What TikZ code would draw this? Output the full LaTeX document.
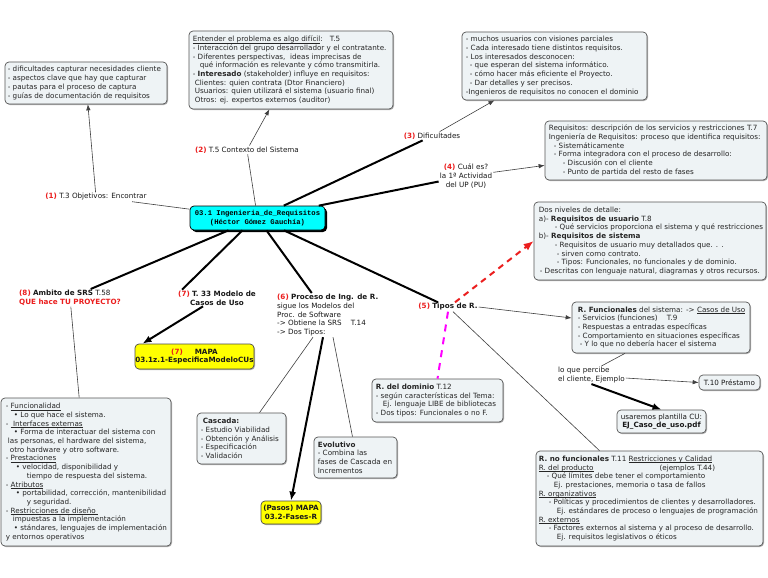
\documentclass[tikz,border=0pt]{standalone}
\usepackage{fontspec}
\setmainfont{DejaVu Sans}
\newfontfamily\cmono{Liberation Mono}
\usetikzlibrary{arrows.meta,calc,shadows}
\definecolor{nred}{RGB}{235,30,30}
\definecolor{boxfill}{RGB}{238,243,245}
\definecolor{boxline}{RGB}{85,85,85}
\definecolor{cyanfill}{RGB}{0,255,255}
\definecolor{yel}{RGB}{255,255,0}
\definecolor{mag}{RGB}{255,0,255}
\newcommand\numr[1]{\textcolor{nred}{\textbf{#1}}}
\newcommand\uln[1]{\setbox0\hbox{#1}\rlap{\rule[-1.3pt]{\wd0}{0.45pt}}\box0}
\tikzset{
  box/.style={draw=boxline, fill=boxfill, rounded corners=4pt, inner sep=0pt, line width=0.7pt,
    drop shadow={shadow xshift=1pt, shadow yshift=-1pt, fill=black!45, opacity=0.7}},
  ybox/.style={box, fill=yel, draw=black!70},
  txt/.style={inner sep=0pt, align=left, anchor=west, text=black!85},
  lbl/.style={inner sep=1pt, align=left, text=black!90},
  thin/.style={draw=black!75, line width=0.6pt},
  thick/.style={draw=black, line width=2pt},
  tarr/.style={-{Latex[length=6pt,width=4.5pt]}},
  karr/.style={-{Latex[length=9pt,width=7pt]}},
}
\begin{document}
\begin{tikzpicture}[x=1pt,y=-1pt,font=\fontsize{7.2pt}{8.7pt}\selectfont]
\useasboundingbox[fill=white] (0,0) rectangle (768,578);

% ---------- boxes ----------
\node[box, minimum width=162pt, minimum height=42pt] (a) at (86,83) {};
\node[txt] (aT) at ($(a.west)+(3,0)$) {- dificultades capturar necesidades cliente\\- aspectos clave que hay que capturar\\- pautas para el proceso de captura\\- guías de documentación de requisitos};

\node[box, minimum width=204pt, minimum height=78pt] (b) at (291,70) {};
\node[txt] (bT) at ($(b.west)+(4,0)$) {\uln{Entender el problema es algo difícil}:\ \ \ T.5\\- Interacción del grupo desarrollador y el contratante.\\- Diferentes perspectivas,\ \ ideas imprecisas de\\\hspace*{7pt}qué información es relevante y cómo transmitirla.\\- \textbf{Interesado} (stakeholder) influye en requisitos:\\\hspace*{2pt}Clientes: quien contrata (Dtor Financiero)\\\hspace*{2pt}Usuarios: quien utilizará el sistema (usuario final)\\\hspace*{2pt}Otros: ej. expertos externos (auditor)};

\node[box, minimum width=185pt, minimum height=68pt] (cc) at (554.5,66) {};
\node[txt] (ccT) at ($(cc.west)+(4,0)$) {- muchos usuarios con visiones parciales\\- Cada interesado tiene distintos requisitos.\\- Los interesados desconocen:\\\hspace*{4pt}- que esperan del sistema informático.\\\hspace*{4pt}- cómo hacer más eficiente el Proyecto.\\\hspace*{4pt}- Dar detalles y ser precisos.\\-Ingenieros de requisitos no conocen el dominio};

\node[box, minimum width=222pt, minimum height=59pt] (d) at (656,150.5) {};
\node[txt] (dT) at ($(d.west)+(4,0)$) {Requisitos: descripción de los servicios y restricciones T.7\\Ingeniería de Requisitos: proceso que identifica requisitos:\\\hspace*{5pt}- Sistemáticamente\\\hspace*{5pt}- Forma integradora con el proceso de desarrollo:\\\hspace*{14pt}- Discusión con el cliente\\\hspace*{14pt}- Punto de partida del resto de fases};

\node[box, minimum width=232pt, minimum height=78pt] (e) at (650,241) {};
\node[txt] (eT) at ($(e.west)+(5,0)$) {Dos niveles de detalle:\\a)- \textbf{Requisitos de usuario} T.8\\\hspace*{16pt}- Qué servicios proporciona el sistema y qué restricciones\\b)- \textbf{Requisitos de sistema}\\\hspace*{16pt}- Requisitos de usuario muy detallados que. . .\\\hspace*{18pt}- sirven como contrato.\\\hspace*{18pt}- Tipos: Funcionales, no funcionales y de dominio.\\\hspace*{1pt}- Descritas con lenguaje natural, diagramas y otros recursos.};

\node[box, minimum width=178pt, minimum height=51pt] (f) at (661,327.5) {};
\node[txt] (fT) at ($(f.west)+(6,0)$) {\textbf{R. Funcionales} del sistema: -> \uln{Casos de Uso}\\- Servicios (funciones)\ \ \ \ T.9\\- Respuestas a entradas específicas\\- Comportamiento en situaciones específicas\\\hspace*{2pt}- Y lo que no debería hacer el sistema};

\node[box, minimum width=61pt, minimum height=15pt] (t10) at (729.5,382.5) {};
\node[lbl, inner sep=0pt] (t10T) at (t10.center) {T.10 Préstamo};

\node[box, minimum width=89pt, minimum height=23pt] (us) at (661.5,421.5) {};
\node[lbl, inner sep=0pt, align=center] (usT) at (us.center) {usaremos plantilla CU:\\\textbf{EJ\_Caso\_de\_uso.pdf}};

\node[box, minimum width=227pt, minimum height=95pt] (nf) at (649.5,498.5) {};
\node[txt] (nfT) at ($(nf.west)+(3,0)$) {\textbf{R. no funcionales} T.11 \uln{Restricciones y Calidad}\\\uln{R. del producto}\hspace*{66pt}(ejemplos T.44)\\\hspace*{8pt}- Qué límites debe tener el comportamiento\\\hspace*{15pt}Ej. prestaciones, memoria o tasa de fallos\\\uln{R. organizativos}\\\hspace*{10pt}- Políticas y procedimientos de clientes y desarrolladores.\\\hspace*{18pt}Ej. estándares de proceso o lenguajes de programación\\\uln{R. externos}\\\hspace*{10pt}- Factores externos al sistema y al proceso de desarrollo.\\\hspace*{18pt}Ej. requisitos legislativos o éticos};

\node[box, minimum width=131pt, minimum height=43pt] (dm) at (437.5,400.5) {};
\node[txt] (dmT) at ($(dm.west)+(4,0)$) {\textbf{R. del dominio} T.12\\- según características del Tema:\\\hspace*{7pt}Ej. lenguaje LIBE de bibliotecas\\- Dos tipos: Funcionales o no F.};

\node[box, minimum width=83pt, minimum height=41pt] (ev) at (355.5,457.5) {};
\node[txt] (evT) at ($(ev.west)+(4,0)$) {\textbf{Evolutivo}\\- Combina las\\fases de Cascada en\\Incrementos};

\node[ybox, minimum width=60pt, minimum height=23pt] (ps) at (291,512.5) {};
\node[lbl, inner sep=0pt, align=center] (psT) at (ps.center) {\textbf{(Pasos) MAPA}\\\textbf{03.2-Fases-R}};

\node[box, minimum width=89pt, minimum height=51pt] (cs) at (241.5,438.5) {};
\node[txt] (csT) at ($(cs.west)+(4,0)$) {\hspace*{2pt}\textbf{Cascada:}\\- Estudio Viabilidad\\- Obtención y Análisis\\- Especificación\\- Validación};

\node[box, minimum width=170pt, minimum height=148pt] (ab) at (86,472) {};
\node[txt] (abT) at ($(ab.west)+(5,0)$) {- \uln{Funcionalidad}\\\hspace*{8pt}• Lo que hace el sistema.\\- \uln{ Interfaces externas}\\\hspace*{8pt}• Forma de interactuar del sistema con\\\hspace*{2pt}las personas, el hardware del sistema,\\\hspace*{4pt}otro hardware y otro software.\\- \uln{Prestaciones}\\\hspace*{10pt}• velocidad, disponibilidad y\\\hspace*{21pt}tiempo de respuesta del sistema.\\- \uln{Atributos}\\\hspace*{10pt}• portabilidad, corrección, mantenibilidad\\\hspace*{21pt}y seguridad.\\- \uln{Restricciones de diseño }\\\hspace*{7pt}impuestas a la implementación\\\hspace*{8pt}• stándares, lenguajes de implementación\\y entornos operativos};

\node[ybox, minimum width=119pt, minimum height=25pt] (m7) at (194.5,356.5) {};
\node[lbl, inner sep=0pt, align=center] (m7T) at (m7.center) {\numr{(7)}\hspace*{12pt}\textbf{MAPA}\\\textbf{03.1z.1-EspecificaModeloCUs}};

% ---------- centre ----------
\node[draw=black, fill=cyanfill, rounded corners=4pt, line width=0.7pt, minimum width=135pt, minimum height=24pt, inner sep=0pt, align=center,
  font=\cmono\bfseries\fontsize{7.2pt}{9pt}\selectfont,
  drop shadow={shadow xshift=2pt, shadow yshift=-2pt, fill=black, opacity=1}] (c) at (257.5,218)
  {03.1 Ingenieria\_de\_Requisitos\\(Héctor Gómez Gauchía)};

% ---------- labels ----------
\node[lbl] (l1) at (96,197) {\numr{(1)} T.3 Objetivos: Encontrar};
\node[lbl] (l2) at (247,150) {\numr{(2)} T.5 Contexto del Sistema};
\node[lbl] (l3) at (432,136) {\numr{(3)} Dificultades};
\node[lbl, align=center] (l4) at (466,176) {\numr{(4)} Cuál es?\\la 1ª Actividad\\del UP (PU)};
\node[lbl] (l5) at (448,307) {\numr{(5)} \textbf{Tipos de R.}};
\node[lbl, anchor=north west] (l6) at (276,293) {\numr{(6)} \textbf{Proceso de Ing. de R.}\\sigue los Modelos del\\Proc. de Software\\-> Obtiene la SRS\ \ \ \ T.14\\-> Dos Tipos:};
\node[lbl, align=center] (l7) at (217,298) {\numr{(7)} \textbf{T. 33 Modelo de}\\\textbf{Casos de Uso}};
\node[lbl, anchor=north west] (l8) at (18,289) {\numr{(8)} \textbf{Ambito de SRS} T.58\\\numr{QUE hace TU PROYECTO?}};
\node[lbl, anchor=north west] (l9) at (557,366) {lo que percibe\\el cliente, Ejemplo};

% ---------- connectors ----------
\draw[thin] (c) -- (l1);
\draw[thin, tarr] (l1) -- (a);
\draw[thin] (c) -- (l2);
\draw[thin, tarr] (l2) -- (b);
\draw[thick] (c) -- (l3);
\draw[thin, tarr] (l3) -- (cc);
\draw[thick] (c) -- (l4);
\draw[thin, tarr] (l4) -- (d);
\draw[thick] (c) -- (l8);
\draw[thick] ([xshift=-15pt]c.south) -- ([xshift=5pt]l7.north west);
\draw[thick] (c) -- (l6);
\draw[thick] (c) -- (l5);
\draw[thick, karr] ([xshift=26pt]l7.south west) -- ([xshift=-52pt]m7.north);
\draw[thin] (l8) -- (ab);
\draw[thin] ([xshift=37pt]l6.south west) -- ([xshift=18pt]cs.north);
\draw[thick, karr] ([xshift=47pt]l6.south west) -- (ps.north);
\draw[thin] ([xshift=57pt]l6.south west) -- ([xshift=-3pt]ev.north);
\draw[nred, line width=2pt, dash pattern=on 6pt off 5pt, -{Latex[length=10pt,width=8pt]}] ([xshift=7pt]l5.north) -- (e.west);
\draw[mag, line width=2pt, dash pattern=on 7pt off 6pt] (l5.south) -- (dm.north);
\draw[thin, tarr] (l5.east) -- ([yshift=9.5pt]f.west);
\draw[thin] ([xshift=5pt]l5.south) -- ([xshift=-50pt]nf.north);
\draw[thin] ([xshift=-36pt]f.south) -- ([xshift=10pt]l9.north);
\draw[thin, tarr] ([yshift=-3pt]l9.east) -- (t10.west);
\draw[thick, karr] (l9.south) -- (us.north);
\end{tikzpicture}
\end{document}
